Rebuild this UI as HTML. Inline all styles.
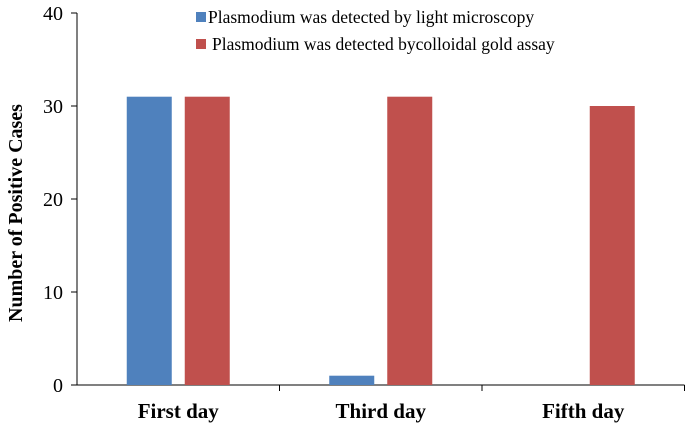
<!DOCTYPE html>
<html><head><meta charset="utf-8"><style>
body{margin:0;background:#fff}
svg{display:block}
text{font-family:"Liberation Serif","DejaVu Serif",serif}
</style></head><body>
<svg id="chart" width="685" height="427" viewBox="0 0 685 427" font-family="Liberation Serif, serif">
<g id="axes"></g><g id="bars"></g>
<text transform="translate(22,213) rotate(-90)" text-anchor="middle" font-size="20" font-weight="bold">Number of Positive Cases</text>
<g>
<g><rect x="196" y="12" width="10" height="10" fill="#4f81bd"/><text x="208" y="23" font-size="17.5">Plasmodium was detected by light microscopy</text></g>
<g><rect x="196" y="39" width="10" height="10" fill="#c0504d"/><text x="212" y="50" font-size="17.5">Plasmodium was detected bycolloidal gold assay</text></g>
</g>
</svg>
<script>
const categories=["First day","Third day","Fifth day"];
const microscopy=[31,1,0];
const goldAssay=[31,31,30];
const yTicks=[0,10,20,30,40];
const ns="http://www.w3.org/2000/svg";
const x0=77,catW=202.5,y0=385,yTop=13,yMax=40;
const y=v=>y0-(v/yMax)*(y0-yTop);
function mk(t,a,p){const e=document.createElementNS(ns,t);for(const k in a)e.setAttribute(k,a[k]);p.appendChild(e);return e;}
const ax=document.getElementById('axes'),bars=document.getElementById('bars');
const yl=mk('line',{x1:x0,y1:yTop,x2:x0,y2:y0,stroke:'#000','stroke-width':1},ax);


const xl=mk('line',{x1:x0,y1:y0,x2:x0+catW*3,y2:y0,stroke:'#000','stroke-width':1},ax);


yTicks.forEach(v=>{
 mk('line',{x1:x0-6,y1:y(v),x2:x0,y2:y(v),stroke:'#000'},ax);
 const t=mk('text',{x:x0-14,y:y(v)+7,'text-anchor':'end','font-size':20},ax);
 t.textContent=v;
 
 
});
categories.forEach((c,i)=>{
 const tx=x0+catW*(i+1);
 mk('line',{x1:tx,y1:y0,x2:tx,y2:y0+6,stroke:'#000'},ax);
 const cx=x0+catW*(i+0.5);
 const t=mk('text',{x:cx,y:418,'text-anchor':'middle','font-size':21,'font-weight':'bold'},ax);
 t.textContent=c;
 
 
 const bw=45,gap=13;
 const b1=mk('rect',{x:cx-gap/2-bw,y:y(microscopy[i]),width:bw,height:y0-y(microscopy[i]),fill:'#4f81bd'},bars);
 
 
 const b2=mk('rect',{x:cx+gap/2,y:y(goldAssay[i]),width:bw,height:y0-y(goldAssay[i]),fill:'#c0504d'},bars);
 
 
});
</script>
</body></html>
